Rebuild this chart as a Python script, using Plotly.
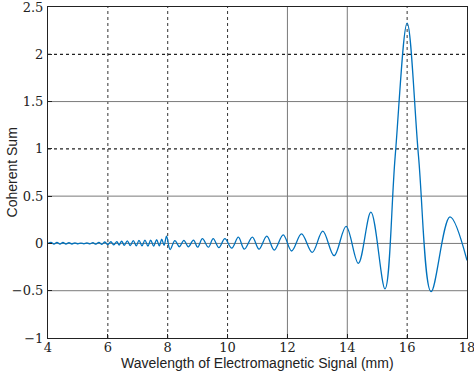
import plotly.graph_objects as go

# Extrema / key points of the coherent-sum curve
wavelength_mm = [
    4.00, 4.10, 4.20, 4.30, 4.40, 4.50, 4.60, 4.70, 4.80, 4.90,
    5.00, 5.10, 5.20, 5.30, 5.40, 5.50, 5.60, 5.70, 5.80, 5.90,
    6.00, 6.10, 6.20, 6.30, 6.38, 6.46, 6.55, 6.65, 6.75, 6.85,
    6.95, 7.04, 7.14, 7.24, 7.34, 7.43, 7.53, 7.63, 7.72, 7.80,
    7.88, 7.96, 8.08, 8.24, 8.39, 8.54, 8.69, 8.86, 9.00, 9.16,
    9.36, 9.52, 9.71, 9.91, 10.14, 10.36, 10.56, 10.83, 11.05, 11.31,
    11.56, 11.86, 12.14, 12.47, 12.83, 13.18, 13.56, 13.96, 14.37, 14.79,
    15.26, 15.60, 16.00, 16.38, 16.80, 17.43, 18.00,
]
coherent_sum = [
    0.000, 0.012, -0.008, 0.012, -0.008, 0.010, -0.006, 0.008, -0.006, 0.006,
    -0.004, 0.004, -0.004, 0.005, -0.005, 0.008, -0.008, 0.012, -0.010, 0.015,
    -0.012, 0.018, -0.015, 0.020, -0.018, 0.025, -0.020, 0.028, -0.022, 0.030,
    -0.025, 0.032, -0.025, 0.035, -0.028, 0.035, -0.028, 0.040, -0.025, 0.045,
    -0.020, 0.077, -0.064, 0.030, -0.035, 0.032, -0.036, 0.035, -0.040, 0.050,
    -0.040, 0.050, -0.045, 0.050, -0.050, 0.066, -0.060, 0.066, -0.060, 0.077,
    -0.070, 0.090, -0.080, 0.100, -0.095, 0.130, -0.130, 0.180, -0.210, 0.330,
    -0.480, 0.920, 2.330, 0.920, -0.510, 0.280, -0.180,
]

x_ticks = [4, 6, 8, 10, 12, 14, 16, 18]
y_ticks = [-1, -0.5, 0, 0.5, 1, 1.5, 2, 2.5]
y_tick_text = ["\u22121", "\u22120.5", "0", "0.5", "1", "1.5", "2", "2.5"]

solid_x_grid = [12, 14]
dotted_x_grid = [6, 8, 10, 16]
solid_y_grid = [-0.5, 0, 0.5, 1.5]
dotted_y_grid = [1, 2]

SERIF = "DejaVu Serif"
SANS = "Liberation Sans"

fig = go.Figure()
fig.add_trace(go.Scatter(
    x=wavelength_mm, y=coherent_sum, mode="lines",
    line=dict(color="#0072BD", width=1.3, shape="spline", smoothing=1.0),
    showlegend=False,
))

shapes = []
for gx in solid_x_grid:
    shapes.append(dict(type="line", xref="x", yref="paper", x0=gx, x1=gx, y0=0, y1=1,
                       line=dict(color="#7a7a7a", width=1), layer="below"))
for gx in dotted_x_grid:
    shapes.append(dict(type="line", xref="x", yref="paper", x0=gx, x1=gx, y0=0, y1=1,
                       line=dict(color="#333333", width=1, dash="dot"), layer="below"))
for gy in solid_y_grid:
    shapes.append(dict(type="line", xref="paper", yref="y", x0=0, x1=1, y0=gy, y1=gy,
                       line=dict(color="#7a7a7a", width=1), layer="below"))
for gy in dotted_y_grid:
    shapes.append(dict(type="line", xref="paper", yref="y", x0=0, x1=1, y0=gy, y1=gy,
                       line=dict(color="#222222", width=1.2, dash="dot"), layer="below"))

axis_common = dict(
    showgrid=False, zeroline=False, showline=True, linecolor="#222222", linewidth=1,
    mirror=True, ticks="inside", ticklen=4, tickcolor="#222222", automargin=False,
    ticklabeloverflow="allow",
    tickfont=dict(family=SERIF, size=13, color="#222222"),
)

fig.update_layout(
    template="none",
    width=474, height=375,
    margin=dict(l=48, r=7, t=7, b=37),
    paper_bgcolor="white", plot_bgcolor="white",
    shapes=shapes,
    xaxis=dict(range=[4, 18], tickvals=x_ticks, ticktext=[str(t) for t in x_ticks],
               ticklabelstandoff=-3, **axis_common),
    yaxis=dict(range=[-1, 2.5], tickvals=y_ticks, ticktext=y_tick_text,
               ticklabelstandoff=1, **axis_common),
    annotations=[
        dict(text="Wavelength of Electromagnetic Signal (mm)", xref="paper", yref="paper",
             x=0.5, y=-0.0755, xanchor="center", yanchor="middle", showarrow=False,
             font=dict(family=SANS, size=14, color="#222222")),
        dict(text="Coherent Sum", xref="paper", yref="paper",
             x=-0.086, y=0.5, xanchor="center", yanchor="middle", textangle=-90,
             showarrow=False, font=dict(family=SANS, size=14, color="#222222")),
    ],
)

fig.write_html(
    "out.html",
    config={"displayModeBar": False},
    post_script="document.body.style.margin='0';document.body.style.overflow='hidden';",
)
